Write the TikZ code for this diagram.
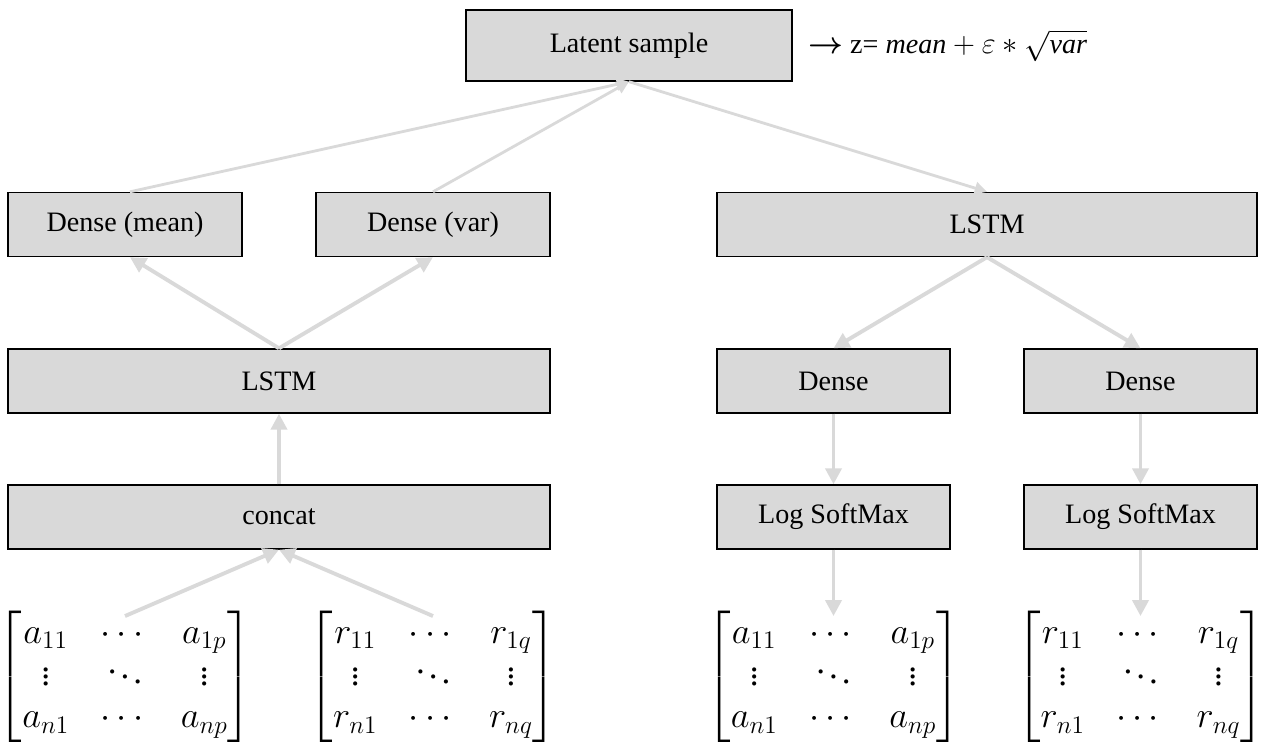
\documentclass[tikz,border=0pt]{standalone}
\usepackage{amsmath}
\usepackage{fontspec}
\setmainfont{Liberation Serif}
\usetikzlibrary{arrows.meta}
\definecolor{boxgray}{HTML}{D9D9D9}
\definecolor{arrgray}{HTML}{D9D9D9}
\begin{document}
\begin{tikzpicture}[
    x=0.02cm, y=-0.02cm,
    layer/.style={rectangle,draw=black,thick,fill=boxgray,minimum height=1.28cm,inner sep=0pt,font=\fontsize{16}{19}\selectfont},
    link/.style={draw=arrgray,line width=2.2pt,-{Triangle[length=9pt,width=9pt]}},
    thinlink/.style={draw=arrgray,line width=1.6pt,-{Triangle[length=7pt,width=7pt]}},
    matrixnode/.style={inner sep=0pt,font=\fontsize{20}{24}\selectfont}
]
\useasboundingbox (0,0) rectangle (1261,742);

% Koder
\node[layer,minimum width=6.52cm,minimum height=1.42cm] (latent) at (629,45.5) {Latent sample};
\node[anchor=west,font=\fontsize{16}{19}\selectfont] (formula) at (802,45.5) {$\boldsymbol{\rightarrow}$ z= $\mathit{mean}+\varepsilon*\sqrt{\mathit{var}}$};
\node[layer,minimum width=4.68cm] (mean) at (125,224.5) {Dense (mean)};
\node[layer,minimum width=4.68cm] (var) at (433,224.5) {Dense (var)};
\node[layer,minimum width=10.84cm] (enclstm) at (279,381) {LSTM};
\node[layer,minimum width=10.84cm] (concat) at (279,517) {concat};

% Dekoder
\node[layer,minimum width=10.8cm] (declstm) at (987,224.5) {LSTM};
\node[layer,minimum width=4.66cm] (densea) at (833.5,381) {Dense};
\node[layer,minimum width=4.66cm] (denser) at (1140.5,381) {Dense};
\node[layer,minimum width=4.66cm] (softa) at (833.5,517) {Log SoftMax};
\node[layer,minimum width=4.66cm] (softr) at (1140.5,517) {Log SoftMax};

% Macierze
\node[matrixnode] (ain) at (125,677) {$\setlength{\arraycolsep}{9pt}\begin{bmatrix} a_{11} & \cdots & a_{1p}\\ \vdots & \ddots & \vdots\\ a_{n1} & \cdots & a_{np}\end{bmatrix}$};
\node[matrixnode] (rin) at (433,677) {$\setlength{\arraycolsep}{9pt}\begin{bmatrix} r_{11} & \cdots & r_{1q}\\ \vdots & \ddots & \vdots\\ r_{n1} & \cdots & r_{nq}\end{bmatrix}$};
\node[matrixnode] (aout) at (833.5,677) {$\setlength{\arraycolsep}{9pt}\begin{bmatrix} a_{11} & \cdots & a_{1p}\\ \vdots & \ddots & \vdots\\ a_{n1} & \cdots & a_{np}\end{bmatrix}$};
\node[matrixnode] (rout) at (1140.5,677) {$\setlength{\arraycolsep}{9pt}\begin{bmatrix} r_{11} & \cdots & r_{1q}\\ \vdots & \ddots & \vdots\\ r_{n1} & \cdots & r_{nq}\end{bmatrix}$};

% Krawędzie kodera
\draw[link] ([yshift=-0.1cm]ain.north) -- (concat.south);
\draw[link] ([yshift=-0.1cm]rin.north) -- (concat.south);
\draw[link] (concat) -- (enclstm);
\draw[link] (enclstm.north) -- ([xshift=0.1cm]mean.south);
\draw[link] (enclstm.north) -- (var.south);
\draw[thinlink] ([xshift=0.1cm]mean.north) -- (latent.south);
\draw[thinlink] (var.north) -- (latent.south);
\draw[thinlink] (latent.south) -- (declstm.north);

% Krawędzie dekodera
\draw[link] (declstm.south) -- (densea.north);
\draw[link] (declstm.south) -- (denser.north);
\draw[link] (densea) -- (softa);
\draw[link] (denser) -- (softr);
\draw[link] (softa.south) -- ([yshift=-0.1cm]aout.north);
\draw[link] (softr.south) -- ([yshift=-0.1cm]rout.north);

\end{tikzpicture}
\end{document}
